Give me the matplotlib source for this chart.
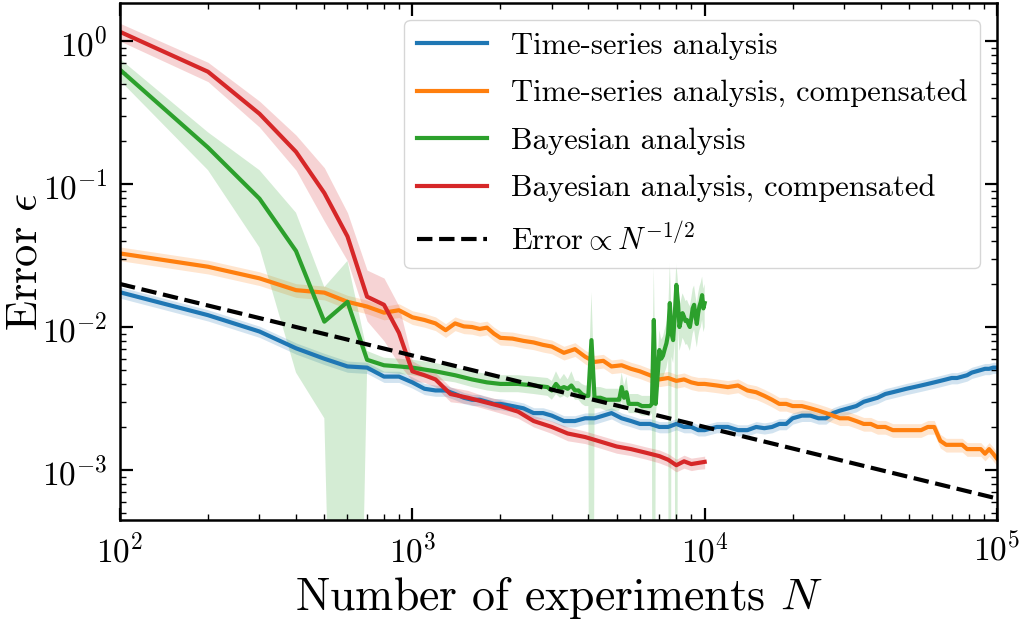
import matplotlib
matplotlib.use("Agg")
import matplotlib.pyplot as plt
import numpy as np

plt.rcParams['font.family'] = 'serif'
plt.rcParams['font.serif'] = ['cmr10', 'DejaVu Serif']
plt.rcParams['mathtext.fontset'] = 'cm'
plt.rcParams['axes.formatter.use_mathtext'] = True
plt.rcParams['axes.unicode_minus'] = False

# time-series analysis grid
ts_N = [100, 200, 300, 400, 500, 600, 700, 800, 900, 1000,
        1100, 1200, 1300, 1400, 1500, 1600, 1700, 1800, 1900, 2000,
        2200, 2400, 2600, 2800, 3000, 3300, 3600, 3900, 4200, 4500,
        4800, 5200, 5600, 6000, 6500, 7000, 7500, 8000, 8500, 9000,
        9500, 10000, 11000, 12000, 13000, 14000, 15000, 16000, 17000, 18000,
        19000, 20000, 21500, 23000, 24500, 26000, 27500, 29000, 31000, 33000,
        35000, 37000, 39000, 41500, 44000, 46500, 49000, 52000, 55000, 58000,
        61000, 64000, 67000, 70000, 73000, 76000, 79000, 82000, 85000, 88000,
        91000, 94000, 97000, 100000]

ts_err = [0.0175, 0.0121, 0.0093, 0.0071, 0.0060, 0.0053, 0.0052, 0.0045, 0.0045, 0.0041,
          0.0037, 0.0036, 0.0036, 0.0034, 0.0032, 0.0031, 0.0031, 0.0030, 0.0029, 0.0029,
          0.0028, 0.0027, 0.0025, 0.0025, 0.0024, 0.0022, 0.0022, 0.0023, 0.0023, 0.0024,
          0.0025, 0.0023, 0.0022, 0.0021, 0.0021, 0.0020, 0.0020, 0.0021, 0.0020, 0.0020,
          0.0019, 0.0019, 0.0020, 0.0020, 0.0019, 0.0019, 0.0020, 0.00196, 0.0020, 0.0021,
          0.0021, 0.0023, 0.0024, 0.0024, 0.0023, 0.0023, 0.0025, 0.0026, 0.0027, 0.0028,
          0.0030, 0.0031, 0.0032, 0.0034, 0.0035, 0.0036, 0.0037, 0.0038, 0.0039, 0.0040,
          0.0041, 0.0042, 0.0043, 0.0044, 0.0044, 0.0045, 0.0046, 0.0048, 0.0049, 0.0050,
          0.0051, 0.0051, 0.0052, 0.0052]

tsc_err = [0.0327, 0.0264, 0.0219, 0.0181, 0.0174, 0.0150, 0.0139, 0.0126, 0.0131, 0.0117,
           0.0112, 0.0106, 0.0095, 0.0106, 0.0101, 0.0100, 0.0097, 0.0099, 0.0090, 0.0084,
           0.0083, 0.0080, 0.0078, 0.0075, 0.0073, 0.0066, 0.0070, 0.0062, 0.0057, 0.0058,
           0.0053, 0.0054, 0.0051, 0.0049, 0.0046, 0.0043, 0.0044, 0.0042, 0.0043, 0.0041,
           0.0040, 0.0040, 0.0039, 0.0038, 0.0039, 0.0036, 0.0035, 0.0033, 0.0031, 0.0029,
           0.0029, 0.0028, 0.0028, 0.0027, 0.0026, 0.0025, 0.0024, 0.0023, 0.0023, 0.0022,
           0.0021, 0.0021, 0.0020, 0.0020, 0.0019, 0.0019, 0.0019, 0.0019, 0.0019, 0.0020,
           0.0020, 0.0016, 0.0015, 0.0015, 0.0015, 0.0015, 0.0014, 0.0014, 0.0014, 0.0014,
           0.0013, 0.0014, 0.0013, 0.0012]

# relative half-width of the shaded bands
ts_spread = 0.09
tsc_spread = 0.11

# Bayesian analysis
bay_N = [100, 200, 300, 400, 500, 600, 700, 800, 900, 1000,
         1200, 1400, 1600, 1800, 2000, 2300, 2600, 2900, 3000, 3100,
         3200, 3300, 3400, 3500, 3600, 3700, 3800, 3900, 4000, 4100,
         4200, 4400, 4600, 4800, 5000, 5100, 5200, 5300, 5400, 5500,
         5700, 5900, 6100, 6300, 6500, 6600, 6700, 6800, 6900, 7000,
         7100, 7200, 7300, 7400, 7500, 7600, 7700, 7800, 7900, 8000,
         8100, 8200, 8300, 8400, 8500, 8600, 8700, 8800, 8900, 9000,
         9100, 9200, 9300, 9400, 9500, 9600, 9700, 9800, 9900, 10000]

bay_err = [0.63, 0.18, 0.079, 0.034, 0.0109, 0.015, 0.0059, 0.0054, 0.0053, 0.0052,
           0.0049, 0.0046, 0.0043, 0.0041, 0.0040, 0.0040, 0.0039, 0.0038, 0.0036, 0.0040,
           0.0037, 0.0038, 0.0037, 0.0039, 0.0036, 0.0036, 0.0034, 0.0033, 0.0033, 0.0081,
           0.0032, 0.0032, 0.0031, 0.0031, 0.0031, 0.0031, 0.0038, 0.0032, 0.0035, 0.0029,
           0.0029, 0.0029, 0.0028, 0.0028, 0.0028, 0.0029, 0.0112, 0.0029, 0.0045, 0.0069,
           0.0060, 0.0063, 0.0070, 0.0077, 0.0090, 0.0147, 0.0090, 0.0081, 0.0120, 0.0197,
           0.0150, 0.0100, 0.0112, 0.0125, 0.0118, 0.0110, 0.0112, 0.0105, 0.0100, 0.0115,
           0.0135, 0.0143, 0.0120, 0.0105, 0.0125, 0.0140, 0.0150, 0.0167, 0.0135, 0.0147]

bay_lo = [0.53, 0.125, 0.036, 0.0048, 0.0023, 1e-9, 0.0049, 0.0048, 0.0047, 0.0046,
          0.0043, 0.0041, 0.0038, 0.0036, 0.0035, 0.0035, 0.0034, 0.0033, 0.0031, 0.0034,
          0.0032, 0.0033, 0.0032, 0.0034, 0.0031, 0.0031, 0.0029, 0.0028, 0.0028, 1e-9,
          0.0027, 0.0027, 0.0026, 0.0026, 0.0026, 0.0026, 0.0030, 0.0027, 0.0028, 0.0025,
          0.0025, 0.0025, 0.0024, 0.0024, 0.0024, 0.0025, 1e-9, 0.0024, 0.0032, 0.0046,
          0.0042, 0.0044, 0.0048, 0.0052, 0.0060, 1e-9, 0.0062, 0.0056, 0.0080, 1e-9,
          0.0100, 0.0068, 0.0075, 0.0084, 0.0080, 0.0075, 0.0076, 0.0072, 0.0068, 0.0078,
          0.0090, 0.0096, 0.0082, 0.0072, 0.0085, 0.0095, 0.0100, 0.0112, 0.0092, 0.0100]

bay_hi = [0.75, 0.23, 0.125, 0.063, 0.019, 0.029, 0.0068, 0.0061, 0.0060, 0.0059,
          0.0056, 0.0052, 0.0049, 0.0047, 0.0046, 0.0046, 0.0045, 0.0044, 0.0042, 0.0049,
          0.0043, 0.0047, 0.0043, 0.0049, 0.0042, 0.0042, 0.0040, 0.0039, 0.0039, 0.0175,
          0.0038, 0.0038, 0.0037, 0.0037, 0.0037, 0.0037, 0.0048, 0.0039, 0.0045, 0.0034,
          0.0034, 0.0034, 0.0033, 0.0033, 0.0033, 0.0034, 0.026, 0.0035, 0.0060, 0.0095,
          0.0082, 0.0086, 0.0096, 0.0105, 0.0125, 0.028, 0.0125, 0.0112, 0.0165, 0.028,
          0.0210, 0.0140, 0.0155, 0.0172, 0.0162, 0.0152, 0.0155, 0.0146, 0.0140, 0.0160,
          0.0185, 0.0195, 0.0165, 0.0146, 0.0172, 0.0192, 0.0205, 0.0225, 0.0185, 0.0200]

# Bayesian analysis, compensated
bayc_N = [100, 200, 300, 400, 500, 600, 700, 800, 900, 1000,
          1100, 1200, 1350, 1550, 1750, 2000, 2300, 2600, 3000, 3400,
          3900, 4400, 5000, 5600, 6300, 7000, 7500, 8000, 8500, 9000,
          9500, 10000]

bayc_err = [1.16, 0.61, 0.31, 0.168, 0.0865, 0.043, 0.0163, 0.0143, 0.0091, 0.0049,
            0.0046, 0.0043, 0.0034, 0.0032, 0.0030, 0.0028, 0.00256, 0.0022, 0.0020, 0.0018,
            0.0017, 0.00158, 0.00146, 0.00140, 0.00132, 0.00125, 0.00118, 0.00108, 0.00115, 0.00110,
            0.00112, 0.00114]

bayc_lo = [1.0, 0.52, 0.25, 0.125, 0.055, 0.029, 0.011, 0.008, 0.0055, 0.0042,
           0.0041, 0.0038, 0.0030, 0.0029, 0.0027, 0.0025, 0.0023, 0.0020, 0.0018, 0.0016,
           0.00153, 0.00142, 0.00131, 0.00126, 0.00119, 0.00112, 0.00106, 0.00097, 0.00103, 0.00099,
           0.00101, 0.00102]

bayc_hi = [1.33, 0.71, 0.38, 0.22, 0.13, 0.063, 0.025, 0.022, 0.014, 0.0058,
           0.0052, 0.0048, 0.0038, 0.0036, 0.0033, 0.0031, 0.0028, 0.0024, 0.0022, 0.0020,
           0.00187, 0.00174, 0.00161, 0.00154, 0.00145, 0.00138, 0.0013, 0.00119, 0.00127, 0.00121,
           0.00123, 0.00125]

# reference line, Error ~ N^(-1/2)
ref_N = [100, 100000]
ref_err = [0.02, 0.000632]

labels = ["Time-series analysis", "Time-series analysis, compensated",
          "Bayesian analysis", "Bayesian analysis, compensated",
          r"$\mathrm{Error} \propto N^{-1/2}$"]

fig = plt.figure(figsize=(10.2, 6.23), dpi=100)
ax = fig.add_axes([120 / 1020, 103 / 623, 877 / 1020, 517 / 623])

lw = 3.0
ts = np.array(ts_err)
tsc = np.array(tsc_err)
ax.fill_between(ts_N, ts * (1 - ts_spread), ts * (1 + ts_spread), color='C0', alpha=0.2, lw=0)
ax.plot(ts_N, ts_err, color='C0', lw=lw, label=labels[0])
ax.fill_between(ts_N, tsc * (1 - tsc_spread), tsc * (1 + tsc_spread), color='C1', alpha=0.2, lw=0)
ax.plot(ts_N, tsc_err, color='C1', lw=lw, label=labels[1])
ax.fill_between(bay_N, bay_lo, bay_hi, color='C2', alpha=0.2, lw=0)
ax.plot(bay_N, bay_err, color='C2', lw=lw, label=labels[2])
ax.fill_between(bayc_N, bayc_lo, bayc_hi, color='C3', alpha=0.2, lw=0)
ax.plot(bayc_N, bayc_err, color='C3', lw=lw, label=labels[3])
ax.plot(ref_N, ref_err, 'k--', lw=lw, label=labels[4])

ax.set_xscale('log')
ax.set_yscale('log')
ax.set_xlim(100, 100000)
ax.set_ylim(4.47e-4, 1.845)

ax.set_xlabel(r"Number of experiments $N$", fontsize=33, labelpad=4)
ax.set_ylabel(r"Error $\epsilon$", fontsize=32)
ax.yaxis.set_label_coords(-0.0855, 0.5)

ax.tick_params(which='both', direction='in', top=True, right=True, labelsize=24)
ax.tick_params(which='major', length=9, width=1.6, pad=9)
ax.tick_params(which='minor', length=4.5, width=1.0)
for s in ax.spines.values():
    s.set_linewidth(1.8)

ax.legend(loc='upper right', bbox_to_anchor=(0.9806, 0.967), borderaxespad=0,
          fontsize=22, handlelength=2.3, labelspacing=0.65)

fig.savefig('out.png', dpi=100)
